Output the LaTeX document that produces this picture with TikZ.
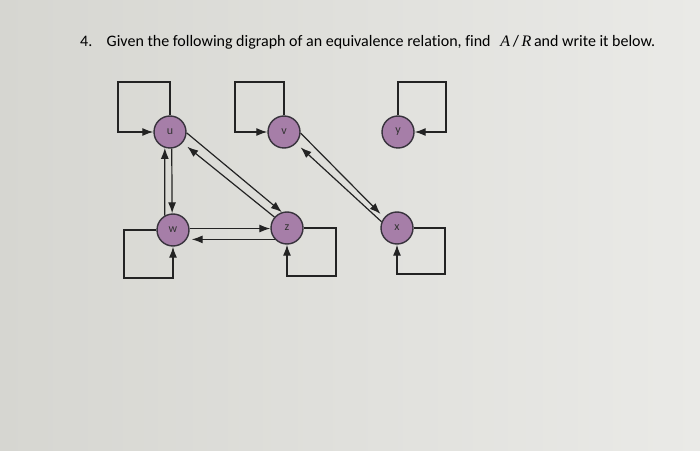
\documentclass[tikz,border=0pt]{standalone}
\usepackage{fontspec}
\setmainfont{Carlito}[Ligatures=NoCommon]
\newfontfamily\mathserif{Liberation Serif}
\usepackage{tikz}
\usetikzlibrary{arrows.meta}
\usetikzlibrary{positioning}

\definecolor{paper}{RGB}{226,226,222}
\definecolor{paperdark}{RGB}{214,214,209}
\definecolor{paperlight}{RGB}{234,234,231}
\definecolor{vertfill}{RGB}{166,126,168}
\definecolor{vertline}{RGB}{55,50,60}
\definecolor{edgeline}{RGB}{35,35,35}

\begin{document}
\begin{tikzpicture}[x=1pt,y=1pt,>={Latex[length=11pt,width=8pt]},node distance=114pt,
  vert/.style={circle,fill=vertfill,draw=vertline,line width=1.4pt,minimum size=32pt,inner sep=0pt,font=\fontsize{12}{14}\selectfont,text=black!80},
  rel/.style={->,draw=edgeline,line width=1.2pt}]

  \useasboundingbox[left color=paperdark,right color=paperlight] (0,0) rectangle (700,450);

  \node[anchor=base west,inner sep=0pt,font=\fontsize{16}{19}\selectfont] (title) at (80,403)
    {4.\hspace{0.9em}Given the following digraph of an equivalence relation, find\hspace{0.6em}{\mathserif\itshape A}\,/\,{\mathserif\itshape R}\,and write it below.};

  \node[vert] (u) at (170,318) {u};
  \node[vert] (v) [right of=u] {v};
  \node[vert] (y) [right of=v] {y};
  \node[vert] (w) [below of=u,node distance=98pt,xshift=3pt] {w};
  \node[vert] (z) [below of=v,node distance=96pt,xshift=3pt] {z};
  \node[vert] (x) [below of=y,node distance=96pt,xshift=-1pt] {x};

  % loops
  \draw[rel] (u.north) |- (118,368) |- (u.west);
  \draw[rel] (v.north) |- (235,368) |- (v.west);
  \draw[rel] (y.north) |- (446,368) |- (y.east);
  \draw[rel] (w.west) -| (124,172) -| (w.south);
  \draw[rel] (z.east) -| (336,174) -| (z.south);
  \draw[rel] (x.east) -| (445,176) -| (x.south);

  % u and w
  \draw[rel] (u.-84) -- (w.93);
  \draw[rel] (w.120) -- (u.-108);

  % u and z
  \draw[rel] (u.-3) -- (z.108);
  \draw[rel,shorten >=6pt] (z.139) -- (u.-41);

  % v and x
  \draw[rel,shorten >=5pt] (v.-4) -- (x.141);
  \draw[rel,shorten >=6pt] (x.158) -- (v.-43);

  % w and z
  \draw[rel] (w.5) -- (w.5 -| z.west);
  \draw[rel,shorten >=2pt] (z.-137) -- (z.-137 -| w.east);
\end{tikzpicture}
\end{document}
